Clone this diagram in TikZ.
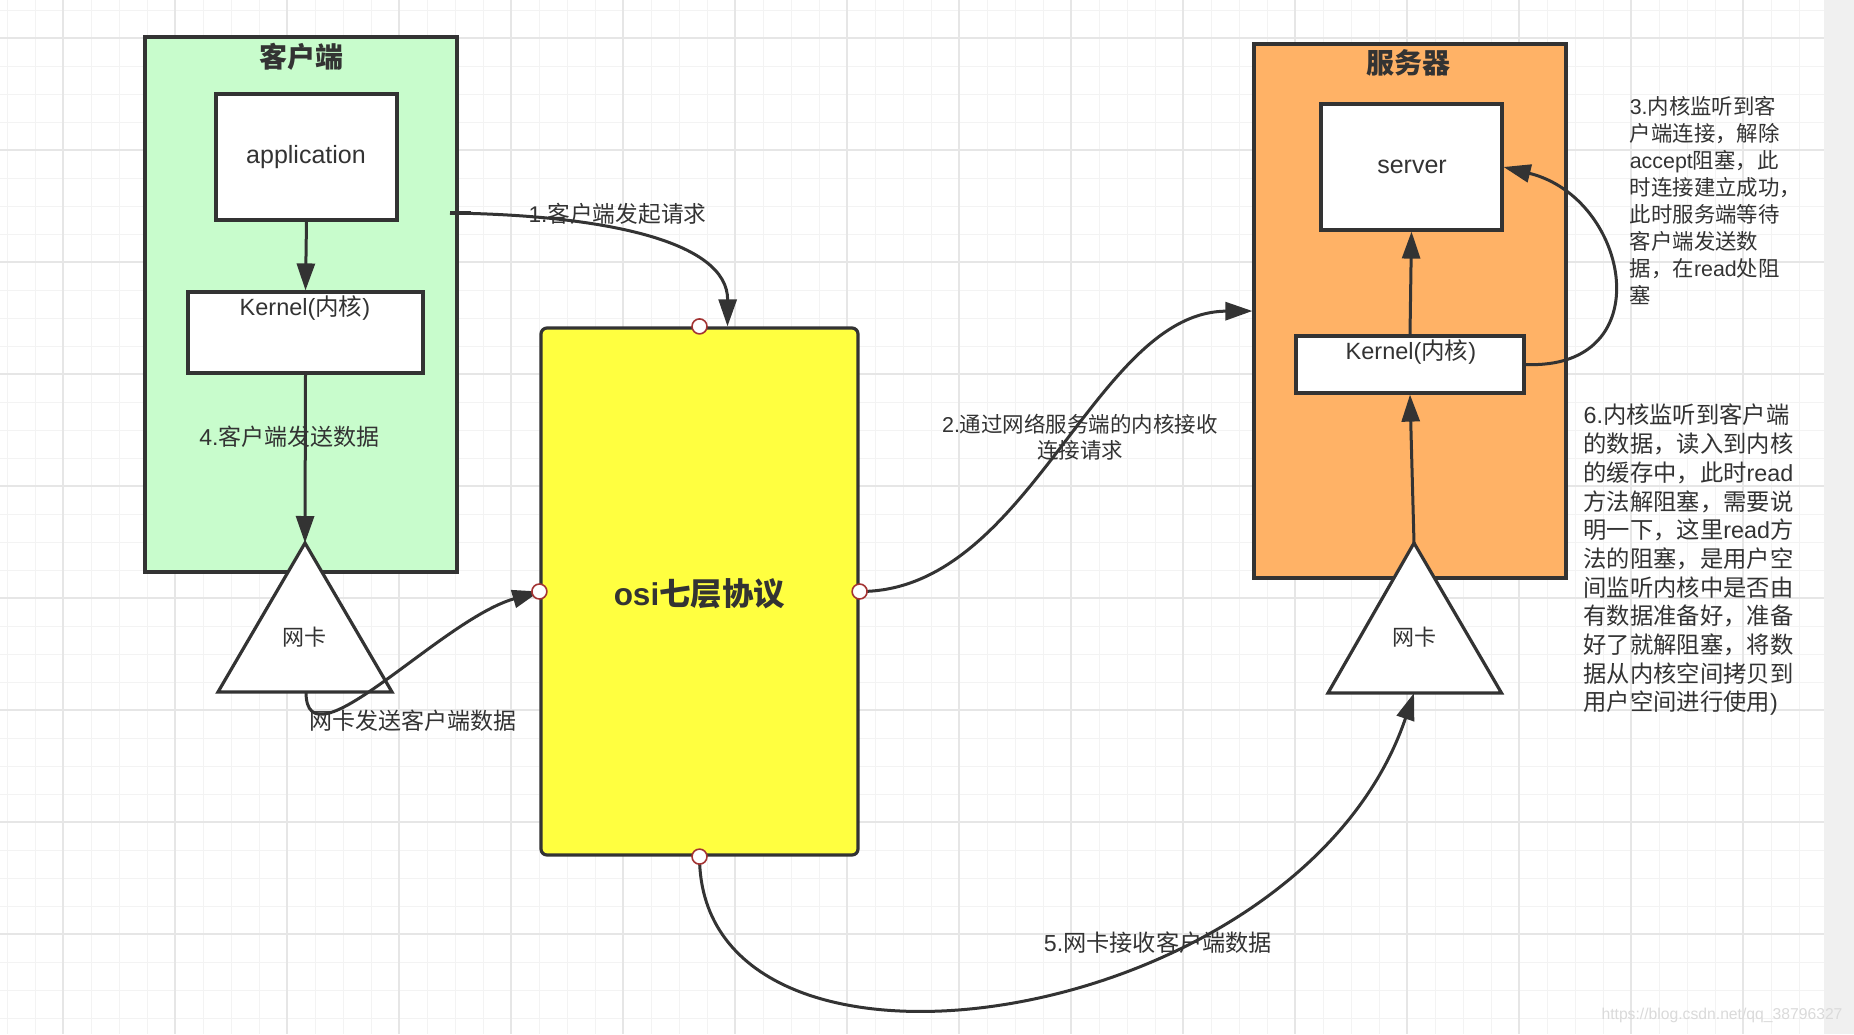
\documentclass[tikz,border=0pt]{standalone}
\usepackage{fontspec}
\setmainfont{Noto Sans CJK SC}
\newfontfamily\lat{Liberation Sans}
\newcommand\latn[1]{{\lat #1}}
\usetikzlibrary{arrows.meta,calc}
\definecolor{inkc}{HTML}{333333}
\definecolor{greenc}{HTML}{C8FCCC}
\definecolor{orangec}{HTML}{FFB266}
\definecolor{yellowc}{HTML}{FFFF40}
\definecolor{portc}{HTML}{A33333}
\definecolor{gridminor}{HTML}{F3F3F3}
\definecolor{gridmajor}{HTML}{E6E6E6}
\definecolor{bandc}{HTML}{F0F0F0}
\definecolor{wmc}{HTML}{DADADA}
\begin{document}
\begin{tikzpicture}[x=1pt,y=-1pt,
  boxline/.style={draw=inkc, line width=3.2pt, inner sep=0pt},
  conn/.style={draw=inkc, line width=3pt, -{Triangle[length=27pt,width=18pt]}},
  lab/.style={text=inkc, inner sep=0pt, font=\fontsize{23}{28}\selectfont},
  port/.style={circle, draw=portc, fill=white, line width=1.6pt, minimum size=15pt, inner sep=0pt},
  tri/.style={draw=inkc, fill=white, line width=3.2pt}
]
\useasboundingbox (0,0) rectangle (1854,1034);
\fill[white] (0,0) rectangle (1854,1034);
% grid
\foreach \i in {0,...,64} \draw[gridminor, line width=1.5pt] ({7.3+28*\i},0) -- ({7.3+28*\i},1034);
\foreach \i in {0,...,36} \draw[gridminor, line width=1.5pt] (0,{10.3+28*\i}) -- (1824,{10.3+28*\i});
\foreach \i in {0,...,15} \draw[gridmajor, line width=1.8pt] ({63.3+112*\i},0) -- ({63.3+112*\i},1034);
\foreach \i in {0,...,8} \draw[gridmajor, line width=1.8pt] (0,{38.3+112*\i}) -- (1824,{38.3+112*\i});
\fill[bandc] (1824,0) rectangle (1854,1034);

% client side
\node[boxline, fill=greenc, minimum width=312pt, minimum height=535pt] (client) at (301,304.5) {};
\node[lab, font=\fontsize{28}{32}\selectfont\bfseries] (clienttitle) at (301,57) {客户端};
\node[boxline, fill=white, minimum width=181pt, minimum height=126pt] (app) at (306.5,157) {};
\node[lab, font=\fontsize{25}{30}\selectfont\lat] (apptext) at (306,157) {application};
\node[boxline, fill=white, minimum width=235pt, minimum height=81pt] (ckernel) at (305.5,332.5) {};
\node[lab, font=\fontsize{23.5}{28}\selectfont] (ckerneltext) at (305,308) {\latn{Kernel(}内核\latn{)}};
\coordinate (cnicapex) at (305,543);
\coordinate (cnicbase) at (306,692);
\draw[tri] (218,692) -- (cnicapex) -- (392,692) -- cycle;
\node[lab, font=\fontsize{22}{26}\selectfont] (cnictext) at (304,637) {网卡};

% server side
\node[boxline, fill=orangec, minimum width=312pt, minimum height=534pt] (server) at (1410,311) {};
\node[lab, font=\fontsize{28}{32}\selectfont\bfseries] (servertitle) at (1408,63) {服务器};
\node[boxline, fill=white, minimum width=181pt, minimum height=126pt] (srv) at (1411.5,167) {};
\node[lab, font=\fontsize{25}{30}\selectfont\lat] (srvtext) at (1412,167) {server};
\node[boxline, fill=white, minimum width=228pt, minimum height=57pt] (skernel) at (1410,364.5) {};
\node[lab, font=\fontsize{23.5}{28}\selectfont] (skerneltext) at (1411,352) {\latn{Kernel(}内核\latn{)}};
\coordinate (snicapex) at (1414,543);
\coordinate (snicbase) at (1414,693);
\draw[tri] (1328,693) -- (snicapex) -- (1501.5,693) -- cycle;
\node[lab, font=\fontsize{22}{26}\selectfont] (snictext) at (1414,637) {网卡};

% osi
\node[draw=inkc, line width=3.2pt, fill=yellowc, rounded corners=6pt, minimum width=317pt, minimum height=527pt, inner sep=0pt] (osi) at (699.5,591.5) {};
\node[lab, font=\fontsize{31.5}{36}\selectfont\bfseries] (ositext) at (699.5,594) {{\lat\bfseries osi}七层协议};

% connectors
\draw[conn] (app.south) -- (ckernel.north);
\draw[conn] (ckernel.south) -- (cnicapex);
\draw[conn] (cnicbase) .. controls (306,770) and (440,620) .. (osi.west);
\coordinate (c1start) at (450,213);
\draw[inkc, line width=4.2pt] (c1start) -- (471,213);
\draw[conn] (c1start) .. controls (600,215) and (728,240) .. ([xshift=28pt]osi.north);
\draw[conn] (osi.east) .. controls (1030,592) and (1094,312) .. (server.west);
\draw[conn] (skernel.north) -- (srv.south);
\draw[conn] (skernel.east) .. controls (1662,370) and (1630,198) .. (srv.east);
\draw[conn] (snicapex) -- (skernel.south);
\draw[conn] (osi.south) .. controls (700,1120) and (1300,1030) .. (snicbase);

% ports
\node[port] (pn) at (osi.north) {};
\node[port] (pw) at (osi.west) {};
\node[port] (pe) at (osi.east) {};
\node[port] (ps) at (osi.south) {};

% labels
\node[lab, font=\fontsize{22.7}{28}\selectfont] (l1) at (617.5,214) {\latn{1.}客户端发起请求};
\node[lab] (l4) at (289.5,437) {\latn{4.}客户端发送数据};
\node[lab] (lnic) at (412.5,721) {网卡发送客户端数据};
\node[lab, font=\fontsize{21.5}{26.5}\selectfont, align=center] (l2) at (1080,437) {\latn{2.}通过网络服务端的内核接收\\连接请求};
\node[lab, font=\fontsize{23.2}{28}\selectfont] (l5) at (1158,943) {\latn{5.}网卡接收客户端数据};
\node[lab, font=\fontsize{21.4}{26.9}\selectfont, align=left, anchor=north west] (l3) at (1629.6,96.6) {\latn{3.}内核监听到客\\
户端连接，解除\\
\latn{accept}阻塞，此\\
时连接建立成功，\\
此时服务端等待\\
客户端发送数\\
据，在\latn{read}处阻\\
塞};
\node[lab, font=\fontsize{23.3}{28.7}\selectfont, align=left, anchor=north west] (l6) at (1583.4,404) {\latn{6.}内核监听到客户端\\
的数据，读入到内核\\
的缓存中，此时\latn{read}\\
方法解阻塞，需要说\\
明一下，这里\latn{read}方\\
法的阻塞，是用户空\\
间监听内核中是否由\\
有数据准备好，准备\\
好了就解阻塞，将数\\
据从内核空间拷贝到\\
用户空间进行使用\latn{)}};
\node[inner sep=0pt, text=wmc, font=\fontsize{15.7}{18}\selectfont\lat] (wm) at (1722,1015) {https://blog.csdn.net/qq\_38796327};
\end{tikzpicture}
\end{document}
